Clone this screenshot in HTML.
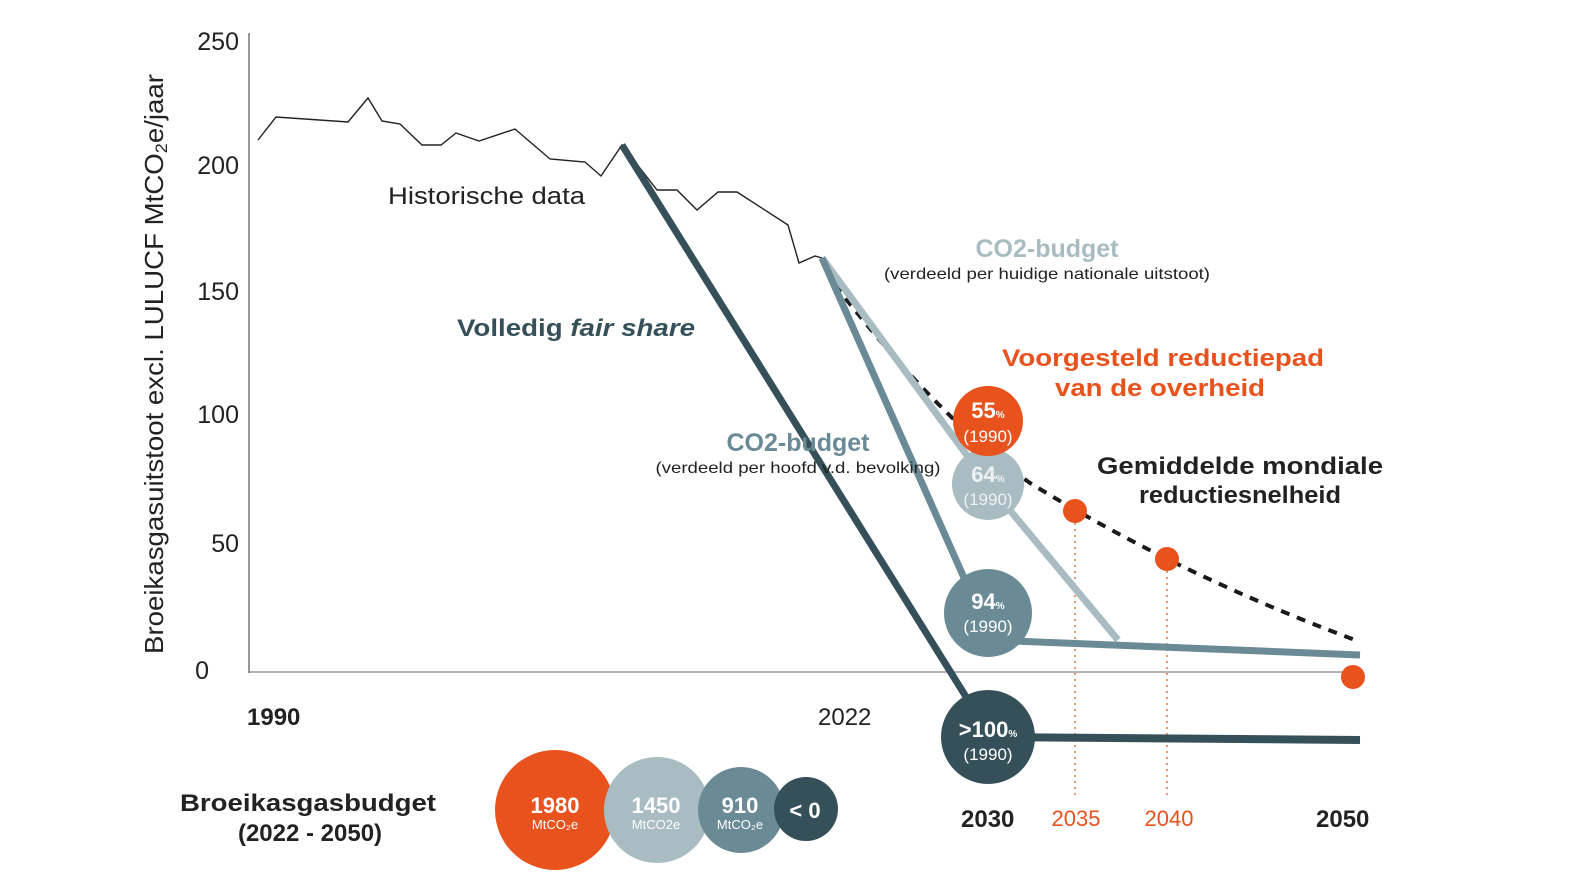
<!DOCTYPE html>
<html><head><meta charset="utf-8"><style>
html,body{margin:0;padding:0;background:#fff;}
svg{display:block;font-family:"Liberation Sans",sans-serif;}
</style></head><body>
<svg width="1586" height="892" viewBox="0 0 1586 892">
<line x1="249" y1="33" x2="249" y2="673" stroke="#555" stroke-width="1.2"/>
<line x1="249" y1="672" x2="1360" y2="672" stroke="#666" stroke-width="1"/>
<g font-size="25" fill="#222" text-anchor="end">
<text x="239" y="50">250</text><text x="239" y="174">200</text><text x="239" y="300">150</text>
<text x="239" y="423">100</text><text x="239" y="552">50</text><text x="209" y="679">0</text>
</g>
<text transform="translate(163,364) rotate(-90)" font-size="26" fill="#222" text-anchor="middle" textLength="580" lengthAdjust="spacingAndGlyphs">Broeikasgasuitstoot excl. LULUCF MtCO<tspan font-size="17" dy="4">2</tspan><tspan dy="-4">e/jaar</tspan></text>
<text x="247" y="725" font-size="24" font-weight="bold" fill="#222">1990</text>
<text x="818" y="725" font-size="24" fill="#222">2022</text>
<polyline fill="none" stroke="#222" stroke-width="1.4" points="258,140 276,117 348,122 368,98 382,121 400,124 422,145 441,145 456,133 479,141 515,129 550,159 585,162 601,176 622,145 657,190 677,190 697,210 718,192 737,192 788,225 799,263 815,256 822,258"/>
<text x="388" y="204" font-size="24" fill="#222" textLength="197" lengthAdjust="spacingAndGlyphs">Historische data</text>
<line x1="1075" y1="511" x2="1075" y2="795" stroke="#e8521c" stroke-width="1.2" stroke-dasharray="2,4"/>
<line x1="1167" y1="559" x2="1167" y2="795" stroke="#e8521c" stroke-width="1.2" stroke-dasharray="2,4"/>
<path d="M835,285 Q940,420 1030,483 Q1180,575 1355,640" fill="none" stroke="#1a1a1a" stroke-width="4" stroke-dasharray="9,8"/>
<polyline fill="none" stroke="#a8bcc2" stroke-width="7" points="822,258 988,484 1118,640"/>
<polyline fill="none" stroke="#6a8a96" stroke-width="7" points="822,258 965,580"/>
<polyline fill="none" stroke="#6a8a96" stroke-width="7" points="988,640 1360,655"/>
<line x1="622" y1="145" x2="968" y2="700" stroke="#36505a" stroke-width="7"/>
<line x1="988" y1="737" x2="1360" y2="740" stroke="#36505a" stroke-width="8"/>
<circle cx="988" cy="484" r="36" fill="#a8bcc2"/>
<circle cx="988" cy="421" r="35" fill="#e8521c"/>
<circle cx="988" cy="613" r="44" fill="#6a8a96"/>
<circle cx="988" cy="737" r="47" fill="#36505a"/>
<circle cx="1075" cy="511" r="12" fill="#e8521c"/>
<circle cx="1167" cy="559" r="12" fill="#e8521c"/>
<circle cx="1353" cy="677" r="12" fill="#e8521c"/>
<g fill="#fff" text-anchor="middle">
<text x="988" y="418" font-size="22" font-weight="bold">55<tspan font-size="10">%</tspan></text>
<text x="988" y="442" font-size="17">(1990)</text>
<text x="988" y="482" font-size="22" font-weight="bold" fill="#eef2f3">64<tspan font-size="10">%</tspan></text>
<text x="988" y="505" font-size="17" fill="#eef2f3">(1990)</text>
<text x="988" y="609" font-size="22" font-weight="bold">94<tspan font-size="10">%</tspan></text>
<text x="988" y="632" font-size="17">(1990)</text>
<text x="988" y="737" font-size="22" font-weight="bold">&gt;100<tspan font-size="10">%</tspan></text>
<text x="988" y="760" font-size="17">(1990)</text>
</g>
<text x="576" y="336" font-size="24" font-weight="bold" fill="#36505a" text-anchor="middle" textLength="238" lengthAdjust="spacingAndGlyphs">Volledig <tspan font-style="italic">fair share</tspan></text>
<text x="1047" y="257" font-size="25" font-weight="bold" fill="#a8bcc2" text-anchor="middle">CO2-budget</text>
<text x="1047" y="279" font-size="16" fill="#222" text-anchor="middle" textLength="326" lengthAdjust="spacingAndGlyphs">(verdeeld per huidige nationale uitstoot)</text>
<text x="798" y="451" font-size="25" font-weight="bold" fill="#6a8a96" text-anchor="middle">CO2-budget</text>
<text x="798" y="473" font-size="16" fill="#222" text-anchor="middle" textLength="285" lengthAdjust="spacingAndGlyphs">(verdeeld per hoofd v.d. bevolking)</text>
<g font-size="24" font-weight="bold" fill="#e8521c" text-anchor="middle">
<text x="1163" y="366" textLength="322" lengthAdjust="spacingAndGlyphs">Voorgesteld reductiepad</text>
<text x="1160" y="396" textLength="210" lengthAdjust="spacingAndGlyphs">van de overheid</text>
</g>
<g font-size="24" font-weight="bold" fill="#222" text-anchor="middle">
<text x="1240" y="474" textLength="286" lengthAdjust="spacingAndGlyphs">Gemiddelde mondiale</text>
<text x="1240" y="503" textLength="202" lengthAdjust="spacingAndGlyphs">reductiesnelheid</text>
</g>
<text x="961" y="827" font-size="24" font-weight="bold" fill="#222">2030</text>
<text x="1076" y="826" font-size="22" fill="#e8521c" text-anchor="middle">2035</text>
<text x="1169" y="826" font-size="22" fill="#e8521c" text-anchor="middle">2040</text>
<text x="1316" y="827" font-size="24" font-weight="bold" fill="#222">2050</text>
<g font-size="24" font-weight="bold" fill="#222" text-anchor="middle">
<text x="308" y="811" textLength="256" lengthAdjust="spacingAndGlyphs">Broeikasgasbudget</text>
<text x="310" y="841">(2022 - 2050)</text>
</g>
<circle cx="555" cy="810" r="60" fill="#e8521c"/>
<circle cx="657" cy="810" r="53" fill="#a8bcc2"/>
<circle cx="741" cy="810" r="43" fill="#6a8a96"/>
<circle cx="806" cy="809" r="32" fill="#36505a"/>
<g fill="#fff" text-anchor="middle">
<text x="555" y="813" font-size="22" font-weight="bold">1980</text>
<text x="555" y="829" font-size="13">MtCO₂e</text>
<text x="656" y="813" font-size="22" font-weight="bold">1450</text>
<text x="656" y="829" font-size="13">MtCO2e</text>
<text x="740" y="813" font-size="22" font-weight="bold">910</text>
<text x="740" y="829" font-size="13">MtCO₂e</text>
<text x="805" y="818" font-size="22" font-weight="bold">&lt; 0</text>
</g>
</svg>
</body></html>
